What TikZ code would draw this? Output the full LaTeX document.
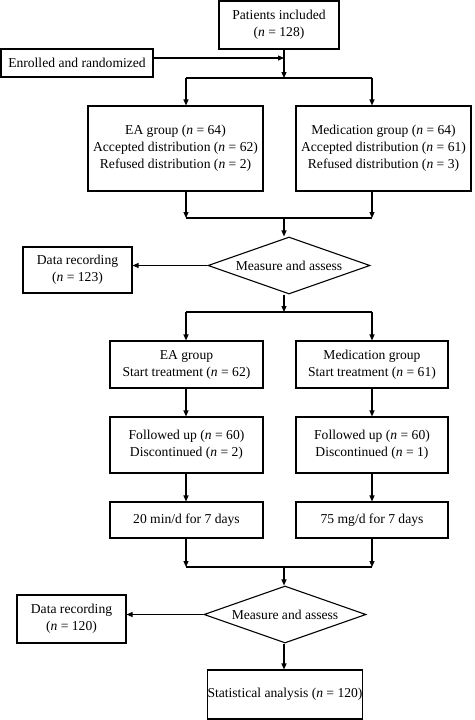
\documentclass[tikz,border=0pt]{standalone}
\usepackage{fontspec}
\setmainfont{Liberation Serif}
\usetikzlibrary{arrows.meta,shapes.geometric}
\begin{document}
\begin{tikzpicture}[x=1pt,y=-1pt,
  box/.style={draw, line width=1.1pt, rectangle, align=center, inner sep=0pt,
    font=\fontsize{13.6}{17}\selectfont},
  dia/.style={draw, line width=1.1pt, diamond, aspect=2.84, inner sep=0pt,
    minimum width=162pt, minimum height=57pt, font=\fontsize{13.6}{17}\selectfont},
  ln/.style={line width=1.1pt},
  arr/.style={line width=1.1pt, -{Triangle[length=6pt,width=5pt]}}]
\useasboundingbox (0,0) rectangle (474,720);
% nodes
\node[box, minimum width=120pt, minimum height=48pt] (pat) at (279,25) {Patients included\\(\textit{n} = 128)};
\node[box, minimum width=152pt, minimum height=28pt] (enr) at (77,63) {Enrolled and randomized};
\node[box, minimum width=175pt, minimum height=85pt] (ea1) at (175.5,148.5) {EA group (\textit{n} = 64)\\Accepted distribution (\textit{n} = 62)\\Refused distribution (\textit{n} = 2)};
\node[box, minimum width=175pt, minimum height=85pt] (med1) at (383.5,148.5) {Medication group (\textit{n} = 64)\\Accepted distribution (\textit{n} = 61)\\Refused distribution (\textit{n} = 3)};
\node[dia] (d1) at (289,265.5) {Measure and assess};
\node[box, minimum width=109pt, minimum height=46pt] (dr1) at (77.5,270) {Data recording\\(\textit{n} = 123)};
\node[box, minimum width=153pt, minimum height=47pt] (ea2) at (186.5,364.5) {EA group\\Start treatment (\textit{n} = 62)};
\node[box, minimum width=152pt, minimum height=47pt] (med2) at (372,364.5) {Medication group\\Start treatment (\textit{n} = 61)};
\node[box, minimum width=153pt, minimum height=56pt] (ea3) at (186.5,445) {Followed up (\textit{n} = 60)\\Discontinued (\textit{n} = 2)};
\node[box, minimum width=152pt, minimum height=56pt] (med3) at (372,445) {Followed up (\textit{n} = 60)\\Discontinued (\textit{n} = 1)};
\node[box, minimum width=153pt, minimum height=36pt] (ea4) at (186.5,520) {20 min/d for 7 days};
\node[box, minimum width=152pt, minimum height=36pt] (med4) at (372,520) {75 mg/d for 7 days};
\node[dia] (d2) at (285,614.5) {Measure and assess};
\node[box, minimum width=109pt, minimum height=48pt] (dr2) at (71.5,619) {Data recording\\(\textit{n} = 120)};
\node[box, minimum width=152pt, minimum height=49pt] (st) at (285,694.5) {Statistical analysis (\textit{n} = 120)};
% helper coordinates
\coordinate (xl) at (186,0);
\coordinate (xr) at (372,0);
\coordinate (en) at (284,58);
\coordinate (b1) at (284,78);
\coordinate (m1) at (284,218);
\coordinate (b2) at (284,312);
\coordinate (m2) at (284,567);
% connectors
\draw[arr] (enr.east |- en) -- (en);
\draw[arr] (pat.south -| en) -- (b1);
\draw[ln] (b1 -| xl) -- (b1 -| xr);
\draw[arr] (b1 -| xl) -- (ea1.north -| xl);
\draw[arr] (b1 -| xr) -- (med1.north -| xr);
\draw[arr] (ea1.south -| xl) -- (m1 -| xl);
\draw[arr] (med1.south -| xr) -- (m1 -| xr);
\draw[ln] (m1 -| xl) -- (m1 -| xr);
\draw[arr] (m1) -- (d1.north -| m1);
\draw[arr] (d1.west) -- (dr1.east |- d1.west);
\draw[arr] (d1.south -| b2) -- (b2);
\draw[ln] (b2 -| xl) -- (b2 -| xr);
\draw[arr] (b2 -| xl) -- (ea2.north -| xl);
\draw[arr] (b2 -| xr) -- (med2.north -| xr);
\draw[arr] (ea2.south -| xl) -- (ea3.north -| xl);
\draw[arr] (med2.south -| xr) -- (med3.north -| xr);
\draw[arr] (ea3.south -| xl) -- (ea4.north -| xl);
\draw[arr] (med3.south -| xr) -- (med4.north -| xr);
\draw[arr] (ea4.south -| xl) -- (m2 -| xl);
\draw[arr] (med4.south -| xr) -- (m2 -| xr);
\draw[ln] (m2 -| xl) -- (m2 -| xr);
\draw[arr] (m2) -- (d2.north -| m2);
\draw[arr] (d2.west) -- (dr2.east |- d2.west);
\draw[arr] (d2.south -| m2) -- (st.north -| m2);
\end{tikzpicture}
\end{document}
